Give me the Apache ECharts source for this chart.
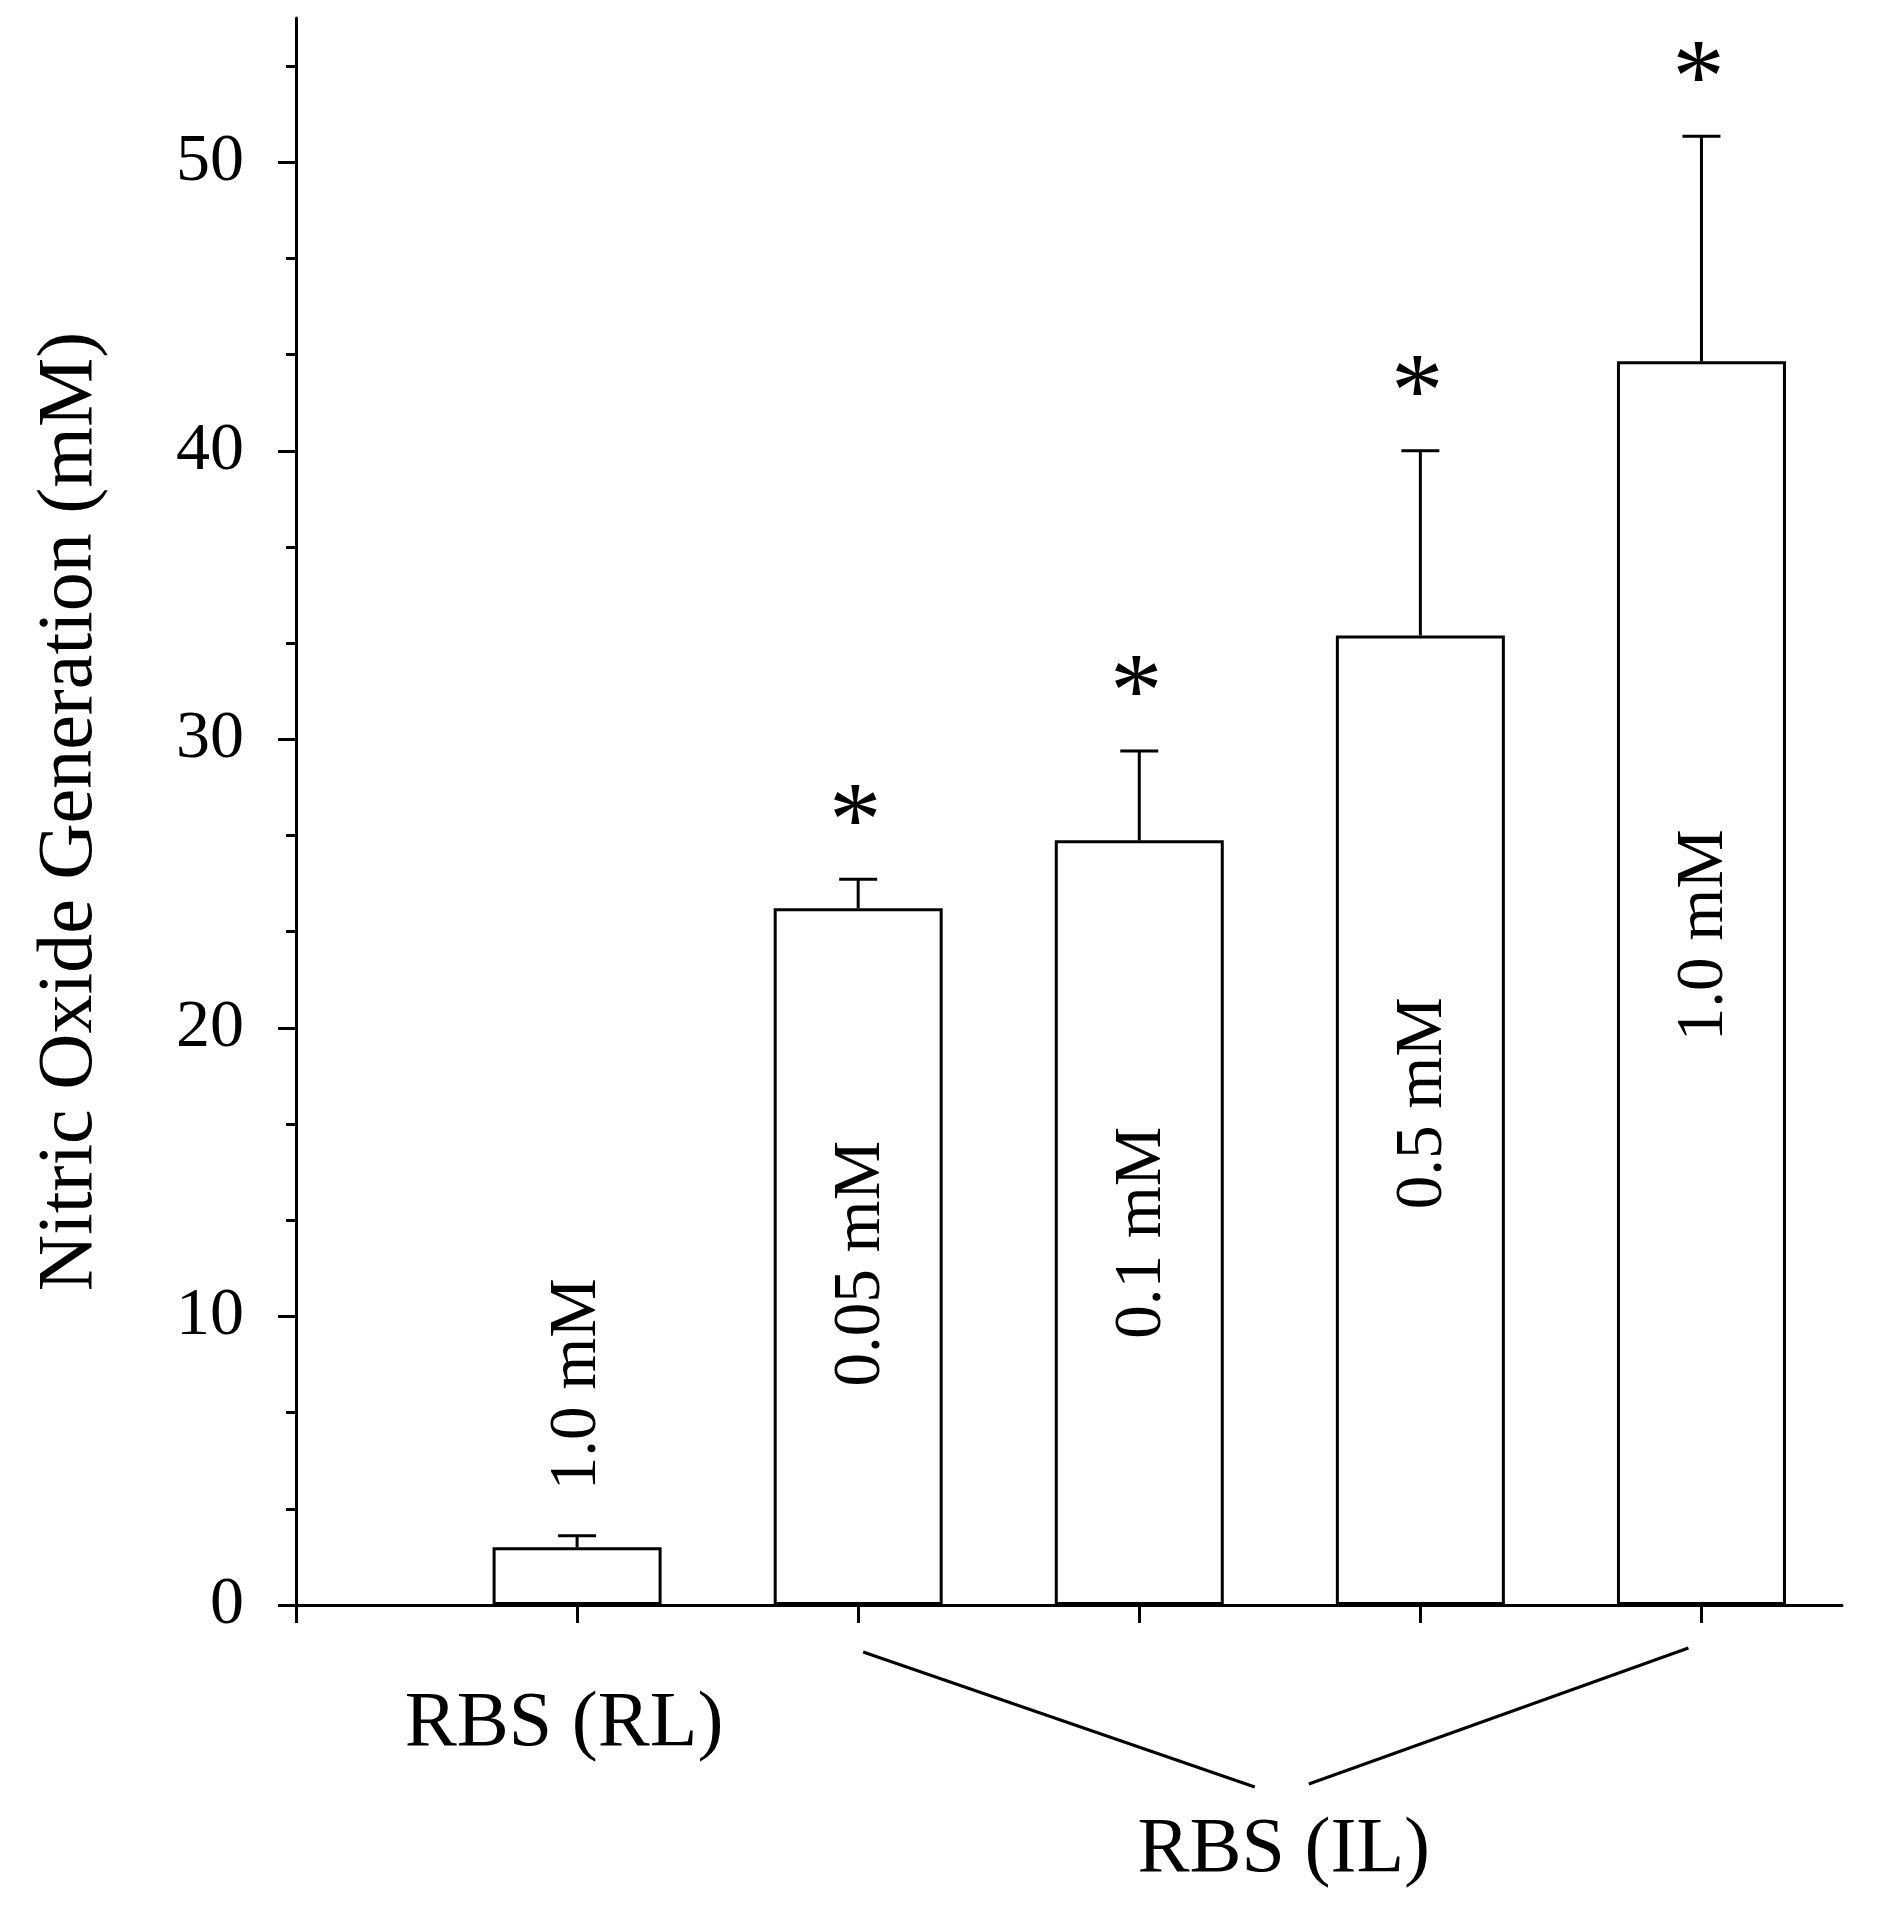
<!DOCTYPE html>
<html><head><meta charset="utf-8">
<script src="https://cdn.jsdelivr.net/npm/echarts@6/dist/echarts.min.js"></script>
<style>html,body{margin:0;padding:0;background:#fff}#c{width:1877px;height:1907px}</style>
</head><body><div id="c"></div>
<script>
// ---- data ----
const barNames = ['1.0 mM', '0.05 mM', '0.1 mM', '0.5 mM', '1.0 mM'];
const barX = [1, 2, 3, 4, 5];
const values = [2.0, 24.15, 26.5, 33.6, 43.1];
const errors = [0.4, 1.0, 3.1, 6.4, 7.8];
const significant = [false, true, true, true, true];
const yMajorTicks = [0, 10, 20, 30, 40, 50];
const xTicks = [0, 1, 2, 3, 4, 5];
const groupNames = ['RBS (RL)', 'RBS (IL)'];
const groupFrom = [1, 2];
const groupTo = [1, 5];

// ---- layout / style ----
const FONT = 'Liberation Serif';
const yMax = 55;
const yMinorTicks = [];
yMajorTicks.forEach(m => { [m + 10 / 3, m + 20 / 3].forEach(t => { if (t < yMax) yMinorTicks.push(+t.toFixed(4)); }); });
// label shift along the text direction (px, positive = up on screen)
const labelShift = [0, -7, -10, 17, 48];
const lineStyle = { color: '#000', width: 3 };

const chart = echarts.init(document.getElementById('c'), null, { renderer: 'canvas' });

const barData = values.map((v, i) => {
  const d = { value: [barX[i], v] };
  if (i === 0) {
    d.label = { position: 'top', distance: 57, align: 'left', verticalAlign: 'middle' };
  } else {
    d.label = { offset: [labelShift[i], 3] };
  }
  return d;
});

const option = {
  animation: false,
  backgroundColor: '#fff',
  grid: { left: 296, right: 35, top: 18, bottom: 302, containLabel: false, outerBoundsMode: 'none' },
  xAxis: {
    type: 'value', min: 0, max: 5.5,
    axisLine: { show: true, onZero: false, lineStyle: lineStyle },
    axisTick: { show: true, customValues: xTicks, length: 18, lineStyle: lineStyle },
    axisLabel: { show: false },
    splitLine: { show: false }
  },
  yAxis: [{
    type: 'value', min: 0, max: yMax, position: 'left',
    axisLine: { show: true, onZero: false, lineStyle: lineStyle },
    axisTick: { show: true, customValues: yMajorTicks, length: 18, lineStyle: lineStyle },
    axisLabel: { customValues: yMajorTicks, fontFamily: FONT, fontSize: 68, color: '#000', margin: 52 },
    splitLine: { show: false },
    name: 'Nitric Oxide Generation (mM)', nameLocation: 'middle', nameGap: 186,
    nameTextStyle: { fontFamily: FONT, fontSize: 78, color: '#000' }
  }, {
    type: 'value', min: 0, max: yMax, position: 'left',
    axisLine: { show: false, onZero: false },
    axisTick: { show: true, customValues: yMinorTicks, length: 10, lineStyle: lineStyle },
    axisLabel: { show: false },
    splitLine: { show: false }
  }],
  series: [{
    type: 'bar',
    xAxisIndex: 0, yAxisIndex: 0,
    barWidth: 169,
    data: barData,
    itemStyle: { color: '#fff', borderColor: '#000', borderWidth: 3 },
    label: {
      show: true, position: 'inside', rotate: 90,
      formatter: p => barNames[p.dataIndex],
      fontFamily: FONT, fontSize: 67, color: '#000'
    },
    z: 2
  }, {
    type: 'custom',
    xAxisIndex: 0, yAxisIndex: 0,
    data: values.map((v, i) => [barX[i], v, errors[i]]),
    renderItem: function (params, api) {
      const x = api.value(0), v = api.value(1), e = api.value(2);
      const base = api.coord([x, v]);
      const top = api.coord([x, v + e]);
      const children = [
        { type: 'line', shape: { x1: base[0], y1: base[1], x2: top[0], y2: top[1] }, style: { stroke: '#000', lineWidth: 3 } },
        { type: 'line', shape: { x1: top[0] - 19, y1: top[1], x2: top[0] + 19, y2: top[1] }, style: { stroke: '#000', lineWidth: 3 } }
      ];
      if (significant[params.dataIndex]) {
        children.push({
          type: 'text', x: top[0] - 3, y: top[1] - 52,
          style: { text: '*', fontFamily: FONT, fontSize: 105, fill: '#000', align: 'center', verticalAlign: 'middle' }
        });
      }
      return { type: 'group', children: children };
    },
    z: 3
  }]
};
chart.setOption(option);

// group labels & bracket (placed via the axes' own scales)
const px = (x, y) => chart.convertToPixel({ xAxisIndex: 0, yAxisIndex: 0 }, [x, y]);
const axisY = px(0, 0)[1];
const graphics = [];
groupNames.forEach((name, g) => {
  const cx = px((groupFrom[g] + groupTo[g]) / 2, 0)[0];
  const multi = groupTo[g] > groupFrom[g];
  graphics.push({
    type: 'text', x: cx + (multi ? 4 : -13), y: axisY + (multi ? 246 : 120),
    style: { text: name, fontFamily: FONT, fontSize: 78, fill: '#000', align: 'center', verticalAlign: 'middle' }
  });
  if (multi) {
    const x0 = px(groupFrom[g], 0)[0] + 5;
    const x1 = px(groupTo[g], 0)[0] - 13;
    graphics.push({ type: 'polyline', shape: { points: [[x0, axisY + 47], [cx - 25, axisY + 182]] }, style: { stroke: '#000', lineWidth: 3, fill: null } });
    graphics.push({ type: 'polyline', shape: { points: [[cx + 29, axisY + 179], [x1, axisY + 43]] }, style: { stroke: '#000', lineWidth: 3, fill: null } });
  }
});
chart.setOption({ graphic: graphics });
</script>
</body></html>
